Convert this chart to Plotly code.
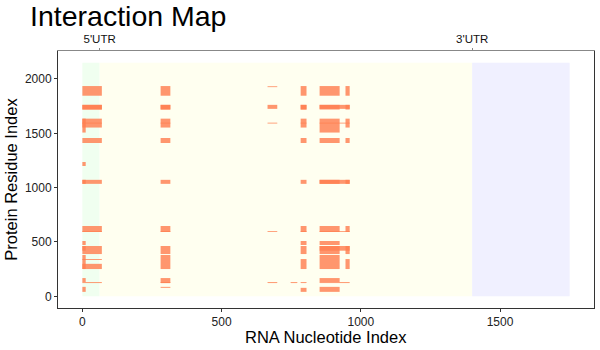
import plotly.graph_objects as go

# Transcript regions along the RNA (nucleotide coordinates)
region_names = ["5'UTR", "CDS", "3'UTR"]
region_start = [0, 62, 1400]
region_end = [62, 1400, 1750]
region_colors = ["#F0FFF0", "#FFFFF0", "#F0F0FF"]
protein_length = 2150

# Interaction tiles: RNA span x protein span
rna_lo = [
    0, 281, 784, 852, 945, 665,
    0, 0, 281, 281, 784, 784, 852, 945, 852, 665,
    0, 281, 784, 852, 945, 0, 0, 281, 665, 784, 852,
    0, 281, 784, 852, 945,
    0,
    0, 0, 281, 784, 852, 945, 852,
    0, 281, 784, 852, 945, 0, 281, 665, 784, 852,
    0, 784, 852,
    0, 0, 281, 784, 852, 945, 852,
    0, 0, 0, 281, 784, 852, 945,
    0, 0, 281, 281, 665, 748, 784, 852, 852,
    0, 281, 784, 852,
]
rna_hi = [
    70, 316, 805, 924, 960, 700,
    70, 70, 316, 316, 805, 805, 924, 960, 960, 700,
    70, 316, 805, 924, 960, 12, 70, 316, 700, 805, 960,
    70, 316, 805, 924, 960,
    12,
    70, 12, 316, 805, 924, 960, 960,
    70, 316, 805, 924, 960, 70, 316, 700, 805, 960,
    12, 805, 924,
    70, 12, 316, 805, 924, 960, 960,
    12, 70, 70, 316, 805, 924, 960,
    12, 70, 316, 316, 700, 772, 805, 924, 960,
    12, 316, 805, 924,
]
prot_lo = [
    1846, 1846, 1846, 1846, 1846, 1925,
    1719, 1719, 1719, 1719, 1719, 1719, 1719, 1719, 1725, 1725,
    1553, 1553, 1553, 1507, 1553, 1507, 1590, 1590, 1590, 1590, 1590,
    1411, 1411, 1411, 1411, 1411,
    1199,
    1035, 1035, 1035, 1035, 1035, 1035, 1035,
    592, 592, 592, 592, 592, 592, 592, 592, 592, 592,
    472, 472, 472,
    389, 420, 389, 389, 389, 389, 420,
    251, 334, 251, 251, 251, 251, 251,
    131, 122, 122, 122, 122, 122, 122, 131, 122,
    41, 78, 41, 41,
]
prot_hi = [
    1935, 1935, 1935, 1935, 1935, 1933,
    1762, 1762, 1762, 1762, 1762, 1762, 1762, 1762, 1762, 1762,
    1635, 1635, 1635, 1635, 1635, 1635, 1598, 1598, 1598, 1598, 1598,
    1457, 1457, 1457, 1457, 1457,
    1236,
    1072, 1072, 1072, 1072, 1072, 1072, 1072,
    647, 647, 647, 647, 647, 600, 600, 600, 600, 600,
    509, 509, 509,
    463, 463, 463, 463, 463, 463, 463,
    380, 343, 299, 380, 343, 380, 343,
    168, 131, 168, 131, 131, 131, 131, 168, 131,
    87, 87, 78, 87,
]

x_range = [-87.5, 1837.5]
y_range = [-107.5, 2257.5]
font_family = "Liberation Sans, Arial, sans-serif"

shapes = []
for x0, x1, c in zip(region_start, region_end, region_colors):
    shapes.append(dict(type="rect", xref="x", yref="y", x0=x0, x1=x1,
                       y0=0, y1=protein_length, fillcolor=c,
                       line=dict(width=0), layer="below"))
for x0, x1, y0, y1 in zip(rna_lo, rna_hi, prot_lo, prot_hi):
    shapes.append(dict(type="rect", xref="x", yref="y", x0=x0, x1=x1,
                       y0=y0, y1=y1, fillcolor="#FF7F50", opacity=0.82,
                       line=dict(width=0), layer="above"))

fig = go.Figure()
# anchor traces so both x axes are drawn
fig.add_trace(go.Scatter(x=[0], y=[0], mode="markers", marker=dict(opacity=0),
                         hoverinfo="skip", showlegend=False))
fig.add_trace(go.Scatter(x=[0], y=[0], mode="markers", marker=dict(opacity=0),
                         xaxis="x2", hoverinfo="skip", showlegend=False))

fig.update_layout(
    width=600, height=350,
    margin=dict(l=57.5, r=6, t=51, b=42),
    paper_bgcolor="white", plot_bgcolor="white",
    font=dict(family=font_family, color="#222"),
    shapes=shapes,
    title=dict(text="Interaction Map", x=30 / 600, xref="container", xanchor="left",
               y=0.953, yref="container", yanchor="middle",
               font=dict(size=28.5, color="black", family=font_family)),
    xaxis=dict(range=x_range, showgrid=False, zeroline=False, automargin=False,
               showline=True, linecolor="#333", linewidth=1,
               ticks="outside", ticklen=3, tickcolor="#333",
               tickvals=[0, 500, 1000, 1500],
               tickfont=dict(size=12, color="#222")),
    xaxis2=dict(range=x_range, overlaying="x", side="top", anchor="y",
                showgrid=False, zeroline=False, automargin=False,
                showline=True, linecolor="#888", linewidth=1,
                ticks="outside", ticklen=2, tickcolor="#888",
                tickvals=[region_end[0], region_start[2]],
                ticktext=[region_names[0], region_names[2]],
                tickfont=dict(size=11.5, color="#111")),
    yaxis=dict(range=y_range, showgrid=False, zeroline=False, automargin=False,
               showline=True, linecolor="#333", linewidth=1, mirror=True,
               ticks="outside", ticklen=3, tickcolor="#333",
               tickvals=[0, 500, 1000, 1500, 2000],
               tickfont=dict(size=12, color="#222"),
               title=dict(text="Protein Residue Index", standoff=3,
                          font=dict(size=16.5, color="black"))),
    annotations=[dict(text="RNA Nucleotide Index", xref="paper", yref="paper",
                      x=0.5, y=0, xanchor="center", yanchor="middle",
                      yshift=-28.5, showarrow=False,
                      font=dict(size=16.5, color="black", family=font_family))],
)

fig.write_html("out.html")
